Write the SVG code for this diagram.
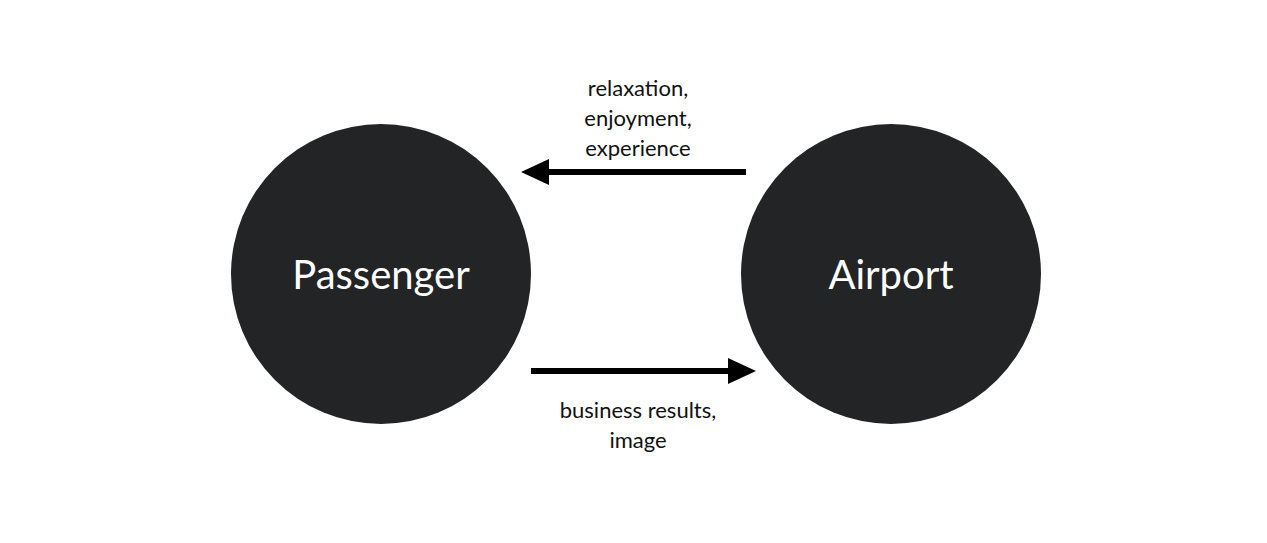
<svg xmlns="http://www.w3.org/2000/svg" width="1267" height="543" viewBox="0 0 1267 543">
<style>
.node{fill:#232425}
.nt{font-family:Lato,"Open Sans",sans-serif;font-size:40px;fill:#fff;text-anchor:middle}
.lb{font-family:Lato,"Open Sans",sans-serif;font-size:22px;fill:#111;text-anchor:middle}
.ln{stroke:#000;stroke-width:6}
</style>
<rect width="1267" height="543" fill="#fff"/>
<g id="passenger"><circle class="node" cx="381" cy="274" r="150"/><text class="nt" x="381" y="289">Passenger</text></g>
<g id="airport"><circle class="node" cx="891" cy="274" r="150"/><text class="nt" x="891" y="289">Airport</text></g>
<g id="connectors">
<line class="ln" x1="746" y1="172" x2="545" y2="172"/>
<polygon points="521,172 549,159 549,185" fill="#000"/>
<line class="ln" x1="531" y1="371" x2="732" y2="371"/>
<polygon points="756,371 728,358 728,384" fill="#000"/>
<text class="lb" x="638" y="96">relaxation,</text>
<text class="lb" x="638" y="126">enjoyment,</text>
<text class="lb" x="638" y="156">experience</text>
<text class="lb" x="638" y="418">business results,</text>
<text class="lb" x="638" y="448">image</text>
</g>
</svg>
